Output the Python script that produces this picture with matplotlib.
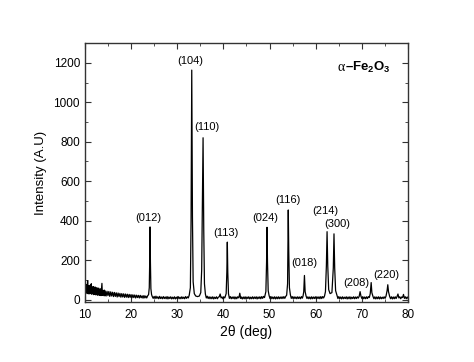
import matplotlib
matplotlib.use('Agg')
import matplotlib.pyplot as plt
from matplotlib.ticker import MultipleLocator

plt.rcParams['font.family'] = ['Liberation Sans', 'DejaVu Sans']
plt.rcParams['mathtext.fontset'] = 'custom'
plt.rcParams['mathtext.rm'] = 'Liberation Sans'
plt.rcParams['mathtext.bf'] = 'Liberation Sans:bold'
plt.rcParams['mathtext.default'] = 'bf'

# XRD pattern: (2theta, intensity)
xrd_points = [
    (10.0, 65), (10.1, 32), (10.2, 78), (10.3, 38), (10.4, 72), (10.5, 30),
    (10.6, 95), (10.7, 35), (10.8, 70), (10.9, 28), (11.0, 68), (11.1, 33),
    (11.2, 74), (11.3, 30), (11.4, 80), (11.5, 27), (11.6, 62), (11.7, 30),
    (11.8, 66), (11.9, 25), (12.0, 58), (12.1, 28), (12.2, 64), (12.3, 24),
    (12.4, 56), (12.5, 27), (12.6, 60), (12.7, 22), (12.8, 52), (12.9, 26),
    (13.0, 58), (13.1, 21), (13.2, 50), (13.3, 25), (13.4, 54), (13.5, 20),
    (13.6, 48), (13.7, 82), (13.8, 22), (13.9, 46), (14.0, 20), (14.2, 48),
    (14.3, 19), (14.4, 44), (14.6, 18), (14.8, 42), (15.0, 20), (15.2, 41),
    (15.4, 16), (15.6, 39), (15.8, 18), (16.0, 37), (16.2, 15), (16.4, 36),
    (16.6, 16), (16.8, 34), (17.0, 13), (17.2, 33), (17.4, 15), (17.6, 31),
    (17.8, 12), (18.0, 30), (18.2, 13), (18.4, 29), (18.6, 11), (18.8, 28),
    (19.0, 12), (19.2, 27), (19.4, 10), (19.6, 26), (19.8, 11), (20.0, 25),
    (20.2, 9), (20.4, 24), (20.6, 10), (20.8, 23), (21.0, 8), (21.2, 22),
    (21.4, 10), (21.6, 21), (21.8, 8), (22.0, 21), (22.2, 9), (22.4, 19),
    (22.6, 7), (22.8, 20), (23.0, 8), (23.2, 18), (23.4, 8), (23.6, 19),
    (23.8, 25),
    (23.95, 60), (24.05, 200), (24.12, 368), (24.2, 190), (24.3, 55), (24.45, 25),
    (24.6, 15), (24.8, 6), (25.0, 16), (25.2, 5), (25.4, 17), (25.6, 6),
    (25.8, 14), (26.0, 4), (26.2, 16), (26.4, 5), (26.6, 13), (26.8, 4),
    (27.0, 15), (27.2, 5), (27.4, 13), (27.6, 4), (27.8, 15), (28.0, 3),
    (28.2, 13), (28.4, 5), (28.6, 14), (28.8, 3), (29.0, 12), (29.2, 4),
    (29.4, 14), (29.6, 3), (29.8, 12), (30.0, 5), (30.2, 15), (30.4, 4),
    (30.6, 12), (30.8, 4), (31.0, 14), (31.2, 5), (31.4, 12), (31.6, 4),
    (31.8, 15), (32.0, 6), (32.2, 14), (32.4, 8), (32.6, 22),
    (32.85, 60), (33.0, 400), (33.15, 1163), (33.3, 420), (33.45, 90),
    (33.7, 30), (34.0, 18), (34.4, 15), (34.8, 18), (35.1, 35),
    (35.3, 150), (35.45, 500), (35.6, 820), (35.75, 350), (35.9, 80),
    (36.1, 28), (36.3, 8), (36.5, 17), (36.7, 5), (36.9, 14), (37.1, 4),
    (37.3, 13), (37.5, 4), (37.7, 14), (37.9, 3), (38.1, 12), (38.3, 5),
    (38.5, 14), (38.7, 4), (38.9, 12), (39.1, 14), (39.3, 28), (39.5, 8),
    (39.7, 13), (39.9, 4), (40.1, 13), (40.3, 8), (40.6, 30),
    (40.75, 140), (40.85, 291), (40.95, 140), (41.1, 30), (41.3, 6),
    (41.5, 15), (41.7, 4), (41.9, 13), (42.1, 5), (42.3, 14), (42.5, 3),
    (42.7, 13), (42.9, 4), (43.1, 14), (43.35, 8), (43.55, 32), (43.75, 6),
    (43.9, 13), (44.1, 3), (44.3, 13), (44.5, 4), (44.7, 14), (44.9, 3),
    (45.1, 13), (45.3, 5), (45.5, 14), (45.7, 3), (45.9, 12), (46.1, 4),
    (46.3, 14), (46.5, 4), (46.7, 13), (46.9, 5), (47.1, 14), (47.3, 3),
    (47.5, 13), (47.7, 5), (47.9, 14), (48.1, 4), (48.3, 15), (48.5, 6),
    (48.7, 16), (48.9, 10), (49.2, 40),
    (49.35, 190), (49.45, 366), (49.55, 190), (49.7, 45), (49.9, 20),
    (50.1, 5), (50.3, 15), (50.5, 4), (50.7, 13), (50.9, 4), (51.1, 14),
    (51.3, 3), (51.5, 13), (51.7, 4), (51.9, 14), (52.1, 4), (52.3, 13),
    (52.5, 5), (52.7, 14), (52.9, 5), (53.1, 15), (53.3, 6), (53.5, 16),
    (53.7, 22), (53.9, 80),
    (54.0, 300), (54.05, 454), (54.15, 250), (54.3, 60), (54.5, 25),
    (54.7, 6), (54.9, 15), (55.1, 4), (55.3, 14), (55.5, 5), (55.7, 13),
    (55.9, 4), (56.1, 14), (56.3, 5), (56.5, 13), (56.7, 4), (56.9, 15),
    (57.1, 7), (57.25, 18), (57.4, 40), (57.55, 122), (57.7, 40), (57.9, 18),
    (58.1, 5), (58.3, 14), (58.5, 4), (58.7, 13), (58.9, 3), (59.1, 14),
    (59.3, 4), (59.5, 13), (59.7, 5), (59.9, 14), (60.1, 4), (60.3, 13),
    (60.5, 5), (60.7, 14), (60.9, 4), (61.1, 15), (61.3, 5), (61.5, 15),
    (61.7, 8), (61.9, 18), (62.1, 40), (62.3, 170),
    (62.45, 344), (62.6, 170), (62.8, 50), (63.1, 30), (63.5, 35),
    (63.8, 160), (63.95, 333), (64.1, 160), (64.3, 45), (64.6, 20),
    (64.8, 5), (65.0, 15), (65.2, 4), (65.4, 13), (65.6, 3), (65.8, 14),
    (66.0, 4), (66.2, 12), (66.4, 5), (66.6, 14), (66.8, 3), (67.0, 13),
    (67.2, 4), (67.4, 14), (67.6, 3), (67.8, 12), (68.0, 5), (68.2, 14),
    (68.4, 4), (68.6, 13), (68.8, 5), (69.0, 14), (69.2, 7), (69.4, 16),
    (69.6, 40), (69.8, 16), (70.0, 5), (70.2, 14), (70.4, 4), (70.6, 13),
    (70.8, 4), (71.0, 14), (71.2, 5), (71.4, 15), (71.6, 10),
    (71.8, 30), (72.0, 86), (72.15, 35), (72.4, 15), (72.6, 4), (72.8, 14),
    (73.0, 3), (73.2, 13), (73.4, 4), (73.6, 14), (73.8, 3), (74.0, 13),
    (74.2, 4), (74.4, 12), (74.6, 5), (74.8, 14), (75.0, 6), (75.2, 16),
    (75.45, 45), (75.6, 75), (75.75, 40), (76.0, 16), (76.2, 4), (76.4, 14),
    (76.6, 3), (76.8, 13), (77.0, 4), (77.2, 14), (77.4, 5), (77.6, 15),
    (77.8, 28), (78.0, 8), (78.2, 14), (78.4, 4), (78.6, 13), (78.8, 10),
    (79.0, 26), (79.2, 6), (79.4, 14), (79.6, 4), (79.8, 13), (80.0, 6),
]
two_theta = [p[0] for p in xrd_points]
intensity = [p[1] for p in xrd_points]

# Miller index labels and where they sit
hkl = ['(012)', '(104)', '(110)', '(113)', '(024)', '(116)',
       '(018)', '(214)', '(300)', '(208)', '(220)']
label_x = [23.7, 32.8, 36.4, 40.6, 49.0, 53.9, 57.5, 62.0, 64.7, 68.8, 75.3]
label_y = [413, 1210, 873, 339, 413, 504, 186, 449, 381, 86, 126]

fig = plt.figure(figsize=(4.74, 3.62), dpi=100)
ax = fig.add_axes([0.179, 0.166, 0.682, 0.715])

ax.plot(two_theta, intensity, color='black', linewidth=0.9)

for t, lx, ly in zip(hkl, label_x, label_y):
    ax.text(lx, ly, t, ha='center', va='center', fontsize=8)

ax.text(0.805, 0.905, 'α', transform=ax.transAxes, ha='right', va='center',
        fontsize=10, family='Liberation Serif')
ax.text(0.805, 0.905, '–Fe$_2$O$_3$', transform=ax.transAxes, ha='left',
        va='center', fontsize=9.5, fontweight='bold')

ax.set_xlim(10, 80)
ax.set_ylim(-12, 1300)
ax.xaxis.set_major_locator(MultipleLocator(10))
ax.xaxis.set_minor_locator(MultipleLocator(5))
ax.yaxis.set_major_locator(MultipleLocator(200))
ax.yaxis.set_minor_locator(MultipleLocator(100))
ax.tick_params(which='both', direction='in', top=True, right=True,
               labelsize=8.5, color='#333333')
ax.tick_params(which='major', length=4)
ax.tick_params(which='minor', length=2)
ax.tick_params(axis='x', pad=5)
for s in ax.spines.values():
    s.set_color('#333333')
    s.set_linewidth(1.0)

ax.set_xlabel('2θ (deg)', fontsize=10, labelpad=3)
ax.set_ylabel('Intensity (A.U)', fontsize=9.5, labelpad=5)

plt.savefig('out.png', dpi=100)
